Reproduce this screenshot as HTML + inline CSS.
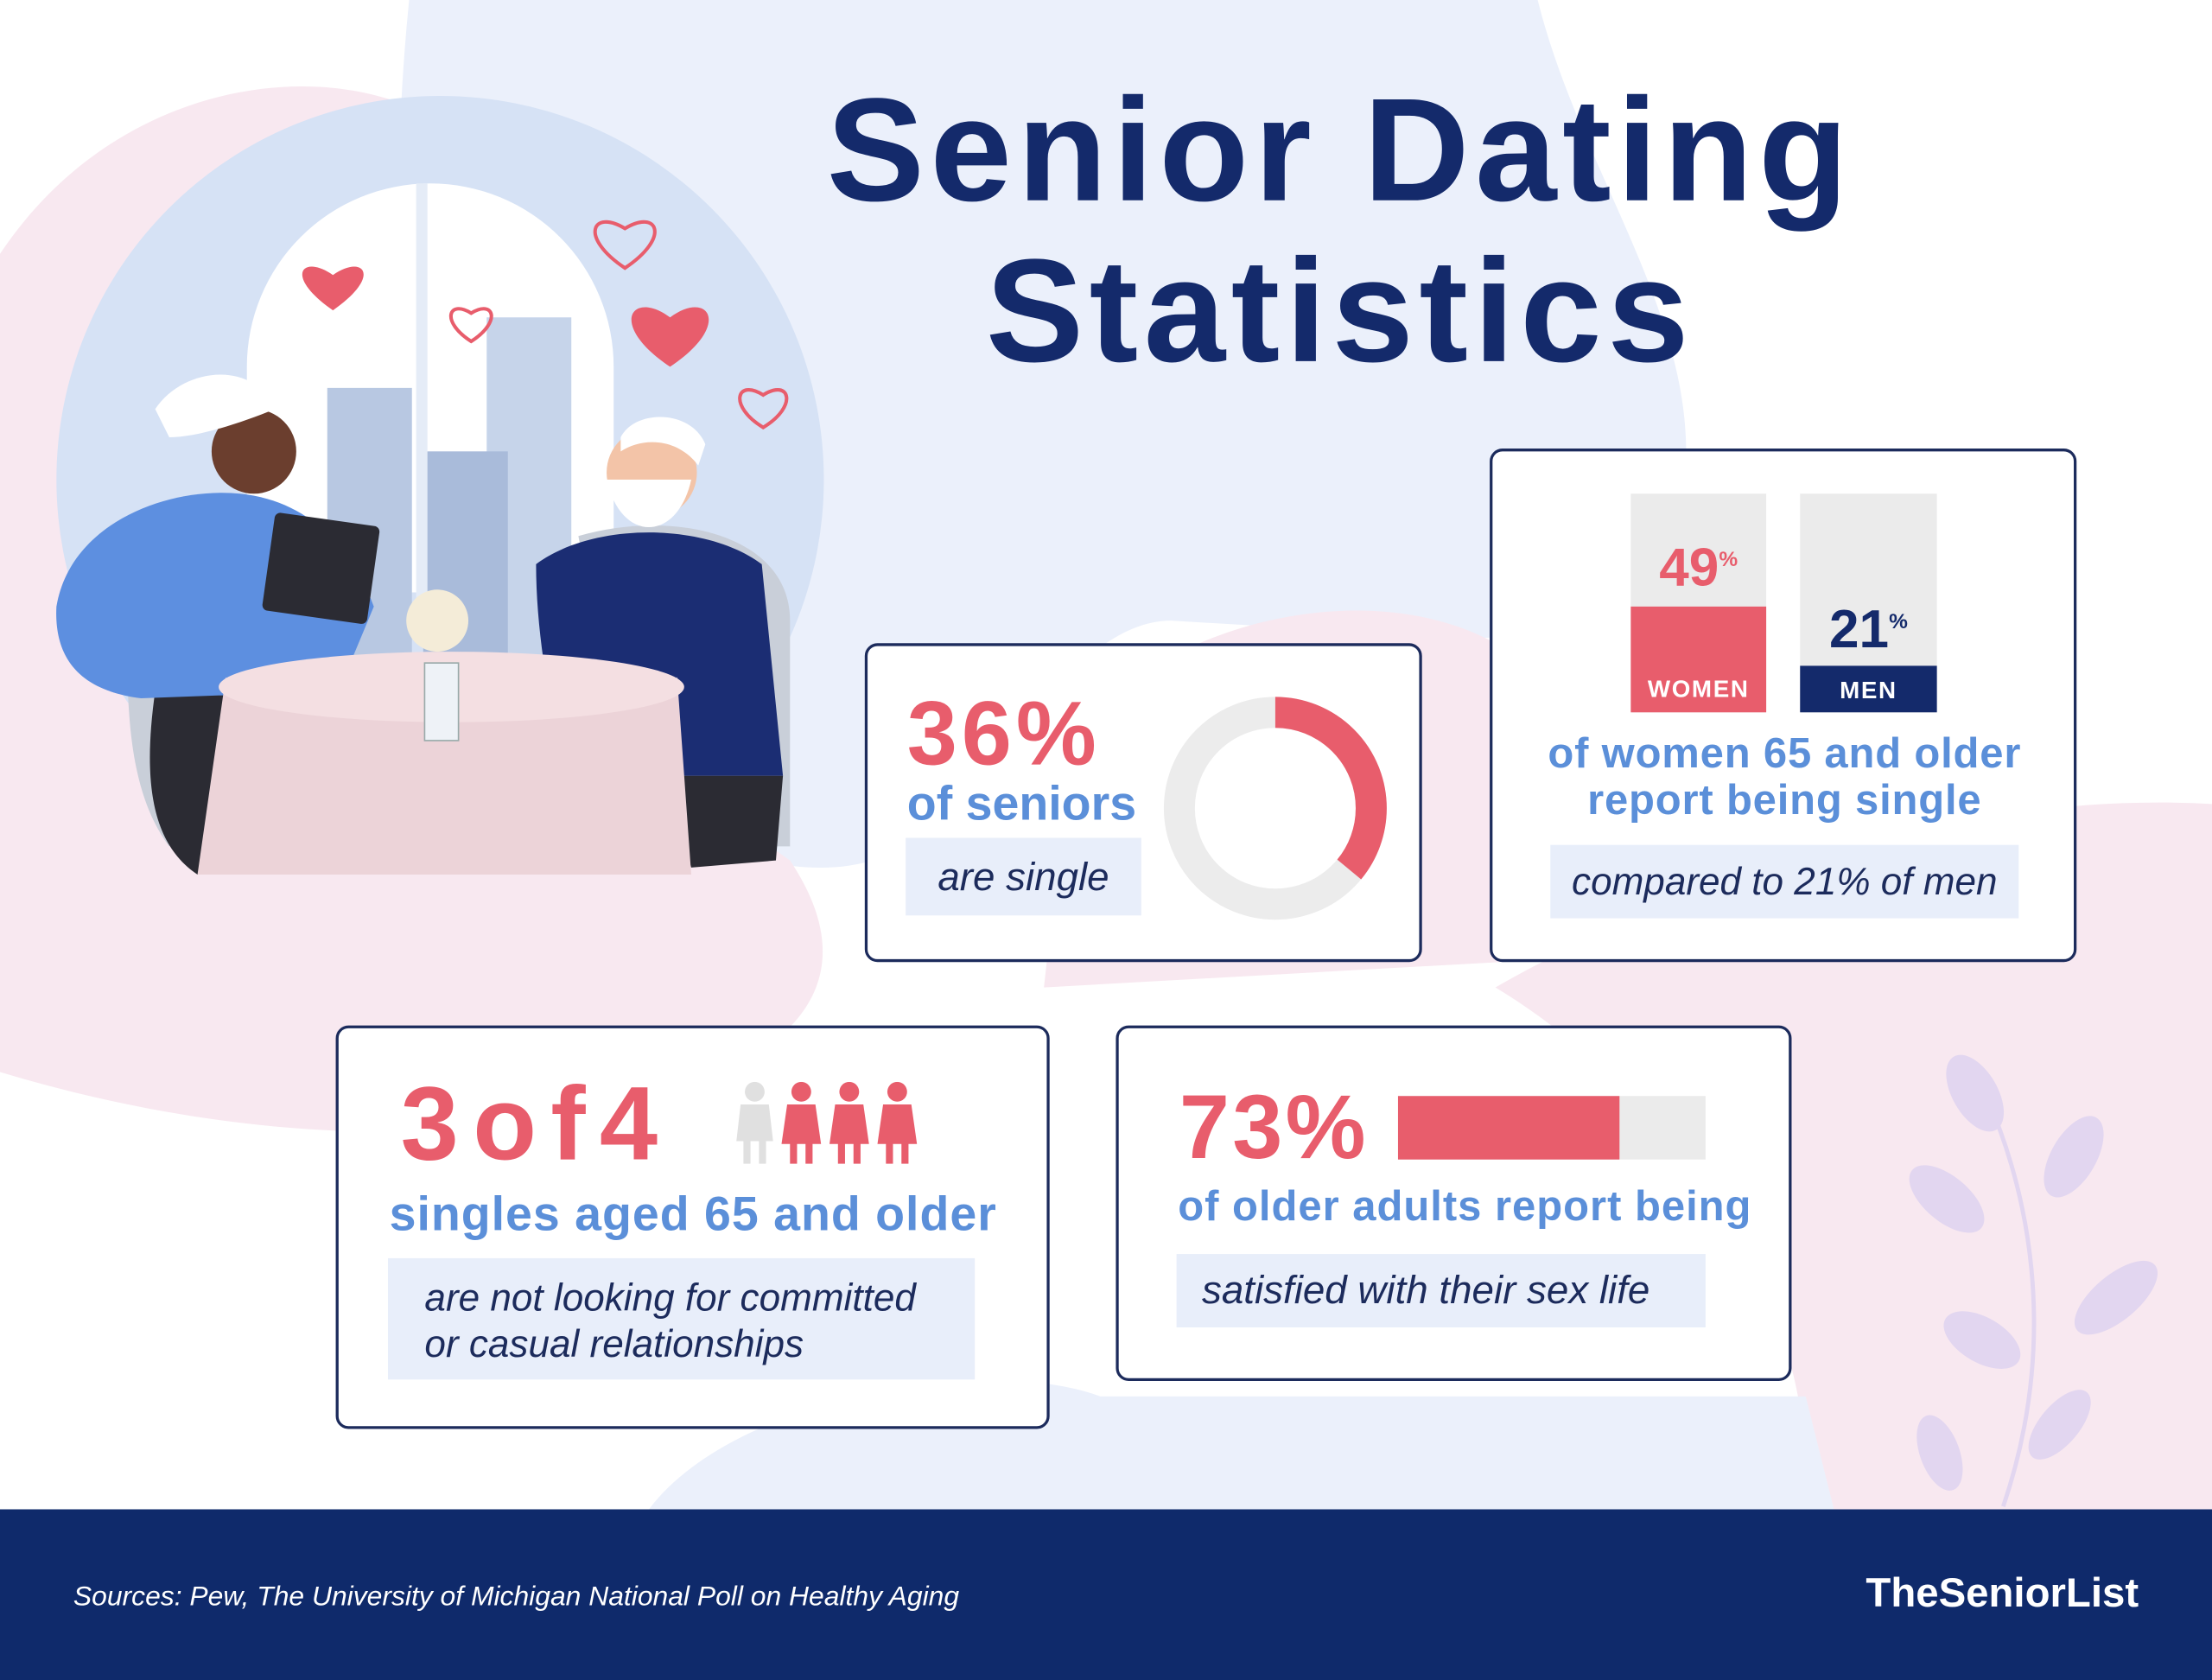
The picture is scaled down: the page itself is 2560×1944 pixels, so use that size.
<!DOCTYPE html>
<html><head><meta charset="utf-8"><style>
html,body{margin:0;padding:0;}
body{width:2560px;height:1944px;overflow:hidden;background:#fff;}
#s{position:absolute;left:0;top:0;width:1568px;height:1191px;transform:scale(1.63265,1.63224);transform-origin:0 0;font-family:"Liberation Sans",sans-serif;overflow:hidden;background:#fff;}
.a{position:absolute;}
.card{position:absolute;background:#fff;border:2px solid #1c2b5c;border-radius:9px;box-sizing:border-box;}
.red{color:#e85d6c;font-weight:bold;}
.blue{color:#5b8fd9;font-weight:bold;}
.lab{position:absolute;background:#e8eefa;color:#1c2b5c;font-style:italic;font-size:28px;box-sizing:border-box;}
</style></head><body><div id="s">
<svg class="a" style="left:0;top:0" width="1568" height="1191">
<path d="M290 0 L1090 0 C1120 120 1200 220 1195 330 C1190 440 1100 460 1000 450 L830 440 C760 440 700 560 640 600 C560 650 430 560 330 560 C290 400 270 200 290 0Z" fill="#ebf0fb"/>
<path d="M0 180 C80 60 220 40 300 80 C360 300 400 500 560 610 C620 700 560 760 420 790 C250 820 100 790 0 760Z" fill="#f8e8f0"/>
<path d="M760 520 C850 420 1010 410 1080 470 L1100 680 L740 700Z" fill="#f8e8f0"/>
<path d="M1060 700 C1200 620 1400 560 1568 570 L1568 1070 L1280 1070 C1290 900 1160 760 1060 700Z" fill="#f8e8f0"/>
<path d="M460 1070 C520 990 700 960 780 990 L1280 990 L1300 1070Z" fill="#ebf0fb"/>
<circle cx="312" cy="340" r="272" fill="#d6e2f5"/>
<path d="M175 420 L175 260 A130 130 0 0 1 435 260 L435 420Z" fill="#fff"/>
<rect x="232" y="275" width="60" height="200" fill="#b8c8e2"/>
<rect x="345" y="225" width="60" height="250" fill="#c6d4ea"/>
<rect x="300" y="320" width="60" height="160" fill="#a9bbda"/>
<rect x="295" y="130" width="8" height="300" fill="#e5ecf7"/>
<path d="M90 440 C80 380 140 360 180 380 L220 560 L120 600 C90 560 90 500 90 440Z" fill="#c9cfd9"/>
<path d="M410 380 C480 360 560 380 560 440 L560 600 L450 600Z" fill="#c9cfd9"/>
<path d="M110 490 C100 560 110 600 140 620 L200 620 L200 490Z" fill="#2b2b33"/>
<path d="M40 430 C50 370 120 345 170 350 C220 355 250 390 265 430 L240 490 L100 495 C60 490 38 470 40 430Z" fill="#5d8fe0"/>
<circle cx="180" cy="320" r="30" fill="#6b3e2e"/>
<path d="M110 290 C130 260 180 255 195 290 C170 300 140 310 120 310Z" fill="#fff"/>
<rect x="190" y="368" width="75" height="70" rx="4" fill="#2b2b33" transform="rotate(8 228 403)"/>
<path d="M380 400 C420 370 500 370 540 400 L555 550 L400 550 C390 500 380 450 380 400Z" fill="#1b2d73"/>
<path d="M470 550 L555 550 L550 610 L490 615Z" fill="#2b2b33"/>
<circle cx="462" cy="335" r="32" fill="#f3c4a8"/>
<path d="M430 340 C440 385 480 385 490 340Z" fill="#fff"/>
<path d="M440 310 C450 290 490 290 500 315 L495 330 C480 310 455 310 440 320Z" fill="#fff"/>
<path d="M160 480 C160 490 475 490 480 480 L490 620 L140 620Z" fill="#ecd3d8"/>
<ellipse cx="320" cy="487" rx="165" ry="25" fill="#f4dfe2"/>
<rect x="301" y="470" width="24" height="55" fill="#eef2f7" stroke="#9aa" stroke-width="1"/>
<circle cx="310" cy="440" r="22" fill="#f4ecd8"/>
<g fill="#e85d6c"><path d="M236 220 C200 195 215 180 236 195 C257 180 272 195 236 220Z"/><path d="M475 260 C430 230 448 205 475 225 C502 205 520 230 475 260Z"/></g>
<g fill="none" stroke="#e85d6c" stroke-width="2.5"><path d="M443 190 C410 168 420 148 443 162 C466 148 476 168 443 190Z"/><path d="M334 242 C312 228 318 212 334 222 C350 212 356 228 334 242Z"/><path d="M541 303 C516 288 522 268 541 280 C560 268 566 288 541 303Z"/></g>
<g fill="#e2d6f0"><ellipse cx="1400" cy="775" rx="16" ry="30" transform="rotate(-30 1400 775)"/><ellipse cx="1470" cy="820" rx="16" ry="32" transform="rotate(30 1470 820)"/><ellipse cx="1380" cy="850" rx="16" ry="32" transform="rotate(-50 1380 850)"/><ellipse cx="1500" cy="920" rx="16" ry="36" transform="rotate(50 1500 920)"/><ellipse cx="1405" cy="950" rx="16" ry="30" transform="rotate(-60 1405 950)"/><ellipse cx="1460" cy="1010" rx="14" ry="30" transform="rotate(40 1460 1010)"/><ellipse cx="1375" cy="1030" rx="14" ry="28" transform="rotate(-20 1375 1030)"/></g>
<path d="M1400 760 C1440 840 1460 950 1420 1068" fill="none" stroke="#e2d6f0" stroke-width="3"/>
</svg>
<div class="a" style="left:500px;top:50px;width:900px;text-align:center;font-size:104px;font-weight:bold;color:#142a6b;line-height:114px;letter-spacing:4px">Senior Dating<br>Statistics</div>

<div class="card" style="left:613px;top:456px;width:395px;height:226px">
<div class="a red" style="left:28px;top:30px;font-size:64px;line-height:64px;letter-spacing:3px">36%</div>
<div class="a blue" style="left:28px;top:93px;font-size:34px">of seniors</div>
<div class="lab" style="left:27px;top:136px;width:167px;height:55px;line-height:55px;text-align:center">are single</div>
<svg class="a" style="left:209px;top:35px" width="160" height="160"><circle cx="80" cy="80" r="68" fill="none" stroke="#ececec" stroke-width="22"/><circle cx="80" cy="80" r="68" fill="none" stroke="#e85d6c" stroke-width="22" stroke-dasharray="153.8 500" transform="rotate(-90 80 80)"/></svg>
</div>

<div class="card" style="left:1056px;top:318px;width:416px;height:364px">
<div class="a" style="left:98px;top:30px;width:96px;height:155px;background:#ebebeb"></div>
<div class="a" style="left:98px;top:110px;width:96px;height:75px;background:#e85d6c;color:#fff;font-weight:bold;font-size:17px;letter-spacing:1px;text-align:center;line-height:118px">WOMEN</div>
<div class="a red" style="left:98px;top:62px;width:96px;text-align:center;font-size:38px">49<sup style="font-size:15px">%</sup></div>
<div class="a" style="left:218px;top:30px;width:97px;height:155px;background:#ebebeb"></div>
<div class="a" style="left:218px;top:152px;width:97px;height:33px;background:#142a6b;color:#fff;font-weight:bold;font-size:17px;letter-spacing:1px;text-align:center;line-height:36px">MEN</div>
<div class="a" style="left:218px;top:106px;width:97px;text-align:center;font-size:38px;font-weight:bold;color:#142a6b">21<sup style="font-size:15px">%</sup></div>
<div class="a blue" style="left:0;top:198px;width:414px;text-align:center;font-size:30px;line-height:33px;letter-spacing:0.5px">of women 65 and older<br>report being single</div>
<div class="lab" style="left:41px;top:279px;width:332px;height:52px;line-height:52px;text-align:center;font-size:27px">compared to 21% of men</div>
</div>

<div class="card" style="left:238px;top:727px;width:506px;height:286px">
<div class="a red" style="left:44px;top:30px;font-size:74px;line-height:76px;letter-spacing:10px">3of4</div>
<svg class="a" style="left:280px;top:38px" width="135" height="62"><g fill="#e0e0e0"><circle cx="15" cy="7" r="7"/><path d="M5 16 H25 L28 42 H2Z"/><rect x="7" y="40" width="5" height="18"/><rect x="18" y="40" width="5" height="18"/></g><g fill="#e85d6c"><circle cx="48" cy="7" r="7"/><path d="M38 16 H58 L62 44 H34Z"/><rect x="40" y="42" width="5" height="16"/><rect x="51" y="42" width="5" height="16"/><circle cx="82" cy="7" r="7"/><path d="M72 16 H92 L96 44 H68Z"/><rect x="74" y="42" width="5" height="16"/><rect x="85" y="42" width="5" height="16"/><circle cx="116" cy="7" r="7"/><path d="M106 16 H126 L130 44 H102Z"/><rect x="108" y="42" width="5" height="16"/><rect x="119" y="42" width="5" height="16"/></g></svg>
<div class="a blue" style="left:36px;top:113px;font-size:34px;letter-spacing:0.6px">singles aged 65 and older</div>
<div class="lab" style="left:35px;top:163px;width:416px;height:86px;padding:12px 0 0 26px;line-height:33px;font-size:27px">are not looking for committed<br>or casual relationships</div>
</div>

<div class="card" style="left:791px;top:727px;width:479px;height:252px">
<div class="a red" style="left:43px;top:38px;font-size:64px;line-height:64px;letter-spacing:2px">73%</div>
<div class="a" style="left:198px;top:48px;width:218px;height:45px;background:#ebebeb"></div>
<div class="a" style="left:198px;top:48px;width:157px;height:45px;background:#e85d6c"></div>
<div class="a blue" style="left:42px;top:110px;font-size:30px;letter-spacing:0.6px">of older adults report being</div>
<div class="lab" style="left:41px;top:160px;width:375px;height:52px;line-height:52px;padding-left:18px;font-size:28px">satisfied with their sex life</div>
</div>

<div class="a" style="left:0;top:1070px;width:1568px;height:121px;background:#0f2a6b"></div>
<div class="a" style="left:52px;top:1121px;color:#fff;font-style:italic;font-size:19.5px">Sources: Pew, The University of Michigan National Poll on Healthy Aging</div>
<div class="a" style="left:1280px;top:1114px;width:236px;text-align:right;color:#fff;font-weight:bold;font-size:29px">TheSeniorList</div>
</div></body></html>
